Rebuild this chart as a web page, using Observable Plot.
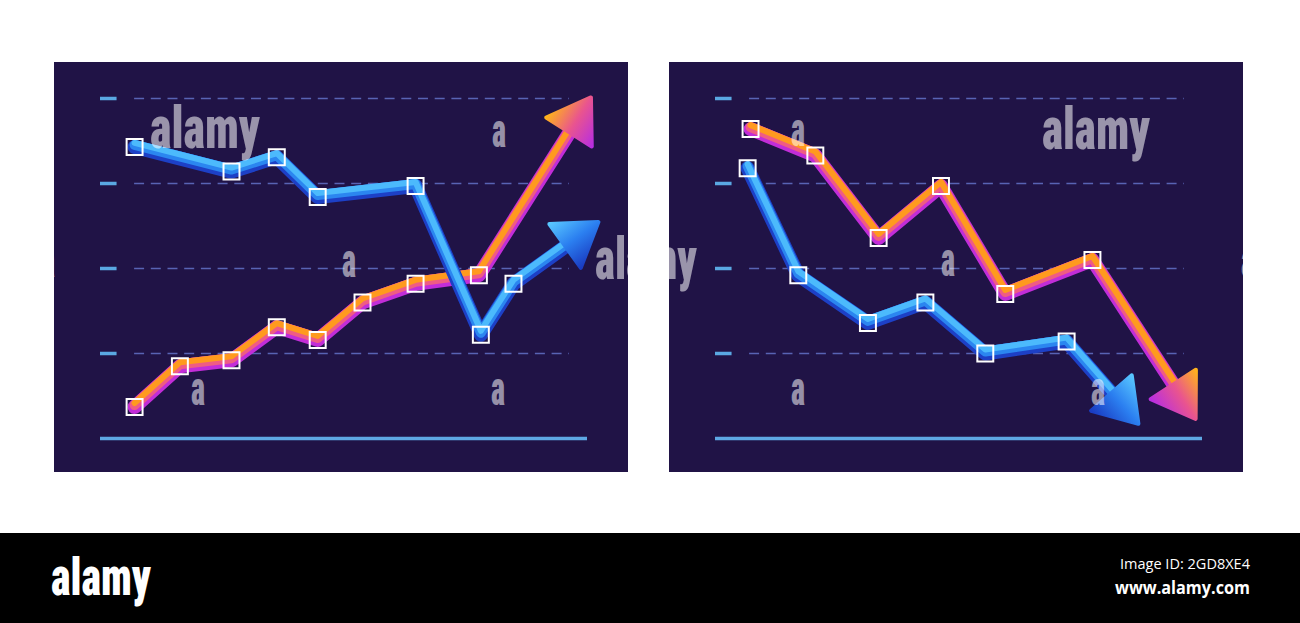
<!DOCTYPE html>
<html>
<head>
<meta charset="utf-8">
<script src="https://cdn.jsdelivr.net/npm/d3@7"></script>
<script src="https://cdn.jsdelivr.net/npm/@observablehq/plot@0.6"></script>
<style>
  html, body { margin: 0; padding: 0; }
  body { width: 1300px; height: 623px; position: relative; background: #ffffff; overflow: hidden; }
  .panel { position: absolute; top: 62px; width: 574px; height: 410px; }
  .panel svg { display: block; }
  #bar { position: absolute; left: 0; top: 533px; width: 1300px; height: 90px; background: #000; }
  #overlay { position: absolute; left: 0; top: 0; pointer-events: none; }
</style>
</head>
<body>
<div id="left" class="panel" style="left:54px"></div>
<div id="right" class="panel" style="left:669px"></div>
<div id="bar"></div>
<svg id="overlay" width="1300" height="623"></svg>
<script>
// ---- data ----
const gridValues = [1, 2, 3, 4];
const baseValue = [0];

const leftOrangeX = [0.70, 1.63, 2.69, 3.62, 4.46, 5.38, 6.47, 7.77, 9.63];
const leftOrangeY = [0.37, 0.85, 0.92, 1.31, 1.16, 1.60, 1.82, 1.92, 3.60];
const leftBlueX   = [0.70, 2.69, 3.62, 4.46, 6.47, 7.81, 8.48, 9.55];
const leftBlueY   = [3.43, 3.14, 3.31, 2.84, 2.97, 1.22, 1.82, 2.26];

const rightOrangeX = [0.72, 2.05, 3.35, 4.63, 5.95, 7.74, 9.41];
const rightOrangeY = [3.64, 3.33, 2.36, 2.97, 1.70, 2.10, 0.63];
const rightBlueX   = [0.66, 1.70, 3.13, 4.31, 5.54, 7.21, 8.14];
const rightBlueY   = [3.18, 1.92, 1.36, 1.60, 1.00, 1.14, 0.53];

// ---- styles ----
const BG = "#201346";
const ORANGE = ["#ff9a1e", "#ef5c84", "#c22dd8"];   // top, mid, bottom
const BLUE   = ["#4cbafc", "#2b86f0", "#1d40c6"];
const ORANGE_HEAD = ["#ffb21c", "#e9548f", "#b82ee0"];
const BLUE_HEAD   = ["#58c6ff", "#2b7ff0", "#1a3cc2"];

const toPts = (xs, ys) => xs.map((x, i) => ({x, y: ys[i]}));

function ribbon(pts, c) {
  const common = {x: "x", y: "y", strokeLinejoin: "round", strokeLinecap: "round", curve: "linear"};
  return [
    Plot.line(pts, {...common, stroke: c[2], strokeWidth: 14}),
    Plot.line(pts, {...common, stroke: c[1], strokeWidth: 10, dy: -2}),
    Plot.line(pts, {...common, stroke: c[0], strokeWidth: 6, dy: -4})
  ];
}

let gradCount = 0;
function arrowHead(pts, c) {
  const id = "grad" + (gradCount++);
  return (index, scales) => {
    const n = pts.length;
    const bx = scales.x(pts[n - 1].x), by = scales.y(pts[n - 1].y);
    const px = scales.x(pts[n - 2].x), py = scales.y(pts[n - 2].y);
    let ux = bx - px, uy = by - py;
    const len = Math.hypot(ux, uy); ux /= len; uy /= len;
    let nx = -uy, ny = ux;
    if (ny > 0 || (ny === 0 && nx > 0)) { nx = -nx; ny = -ny; }
    const L = 41, W = 27;
    const tip = [bx + ux * L, by + uy * L];
    const c1 = [bx + nx * W, by + ny * W];
    const c2 = [bx - nx * W, by - ny * W];
    const g = d3.create("svg:g");
    const grad = g.append("defs").append("linearGradient")
      .attr("id", id).attr("gradientUnits", "userSpaceOnUse")
      .attr("x1", c1[0]).attr("y1", c1[1]).attr("x2", c2[0]).attr("y2", c2[1]);
    grad.append("stop").attr("offset", "0").attr("stop-color", c[0]);
    grad.append("stop").attr("offset", "0.5").attr("stop-color", c[1]);
    grad.append("stop").attr("offset", "1").attr("stop-color", c[2]);
    g.append("path")
      .attr("d", `M${tip[0]},${tip[1]}L${c1[0]},${c1[1]}L${c2[0]},${c2[1]}Z`)
      .attr("fill", `url(#${id})`)
      .attr("stroke", `url(#${id})`)
      .attr("stroke-width", 4)
      .attr("stroke-linejoin", "round");
    return g.node();
  };
}

function markers(pts) {
  return Plot.dot(pts.slice(0, -1), {x: "x", y: "y", symbol: "square", r: 9, stroke: "white", strokeWidth: 2, fill: "none"});
}

function frame(series) {
  const marks = [
    Plot.ruleY(gridValues, {x1: 0.70, x2: 9.63, stroke: "#5863b4", strokeWidth: 1.4, strokeDasharray: "10,6.7"}),
    Plot.ruleY(gridValues, {x1: 0, x2: 0.34, stroke: "#5aa8e2", strokeWidth: 3.5}),
    Plot.ruleY(baseValue, {x1: 0, x2: 10, stroke: "#5ea8e4", strokeWidth: 3.5})
  ];
  for (const s of series) marks.push(...ribbon(s.pts, s.c), arrowHead(s.pts, s.h));
  for (const s of series) marks.push(markers(s.pts));
  return Plot.plot({
    width: 574, height: 410,
    marginLeft: 46, marginRight: 41, marginTop: 36, marginBottom: 34,
    x: {domain: [0, 10], axis: null},
    y: {domain: [0, 4], axis: null},
    style: {background: BG, overflow: "visible"},
    marks
  });
}

document.getElementById("left").append(frame([
  {pts: toPts(leftOrangeX, leftOrangeY), c: ORANGE, h: ORANGE_HEAD},
  {pts: toPts(leftBlueX, leftBlueY), c: BLUE, h: BLUE_HEAD}
]));
document.getElementById("right").append(frame([
  {pts: toPts(rightBlueX, rightBlueY), c: BLUE, h: BLUE_HEAD},
  {pts: toPts(rightOrangeX, rightOrangeY), c: ORANGE, h: ORANGE_HEAD}
]));

// ---- watermark & footer text ----
const ov = d3.select("#overlay");
const clip = ov.append("defs").append("clipPath").attr("id", "panelsClip");
clip.append("rect").attr("x", 54).attr("y", 62).attr("width", 574).attr("height", 410);
clip.append("rect").attr("x", 669).attr("y", 62).attr("width", 574).attr("height", 410);
const wm = ov.append("g").attr("clip-path", "url(#panelsClip)");

const heavy = "'Roboto Condensed', Roboto, Lato, 'DejaVu Sans Condensed', sans-serif";
const bigMarks = [
  {t: "alamy", x: 150, y: 148, w: 110},
  {t: "alamy", x: 1042, y: 149, w: 108},
  {t: "alamy", x: 595, y: 279, w: 102}
];
const smallMarks = [
  [499, 147], [349, 277], [198, 405], [498, 405],
  [798, 146], [948, 276], [798, 405], [1098, 405],
  [48, 277], [1248, 277]
];
for (const m of bigMarks) {
  wm.append("text").attr("x", m.x).attr("y", m.y).text(m.t)
    .attr("font-family", heavy).attr("font-weight", 900).attr("font-size", 60)
    .attr("textLength", m.w).attr("lengthAdjust", "spacingAndGlyphs")
    .attr("fill", "white").attr("fill-opacity", 0.55);
}
for (const [cx, by] of smallMarks) {
  wm.append("text").attr("x", cx - 7).attr("y", by).text("a")
    .attr("font-family", heavy).attr("font-weight", 900).attr("font-size", 48)
    .attr("textLength", 14).attr("lengthAdjust", "spacingAndGlyphs")
    .attr("fill", "white").attr("fill-opacity", 0.55);
}
ov.append("text").attr("x", 51).attr("y", 595).text("alamy")
  .attr("font-family", heavy).attr("font-weight", 900).attr("font-size", 51)
  .attr("textLength", 100).attr("lengthAdjust", "spacingAndGlyphs").attr("fill", "white");
ov.append("text").attr("x", 1250).attr("y", 569).text("Image ID: 2GD8XE4")
  .attr("text-anchor", "end").attr("font-family", "'Open Sans', 'DejaVu Sans', sans-serif")
  .attr("font-size", 14).attr("textLength", 130).attr("lengthAdjust", "spacingAndGlyphs").attr("fill", "white");
ov.append("text").attr("x", 1250).attr("y", 594).text("www.alamy.com")
  .attr("text-anchor", "end").attr("font-family", "'Open Sans', 'DejaVu Sans', sans-serif")
  .attr("font-weight", "bold").attr("font-size", 17).attr("textLength", 135).attr("lengthAdjust", "spacingAndGlyphs").attr("fill", "white");
</script>
</body>
</html>
